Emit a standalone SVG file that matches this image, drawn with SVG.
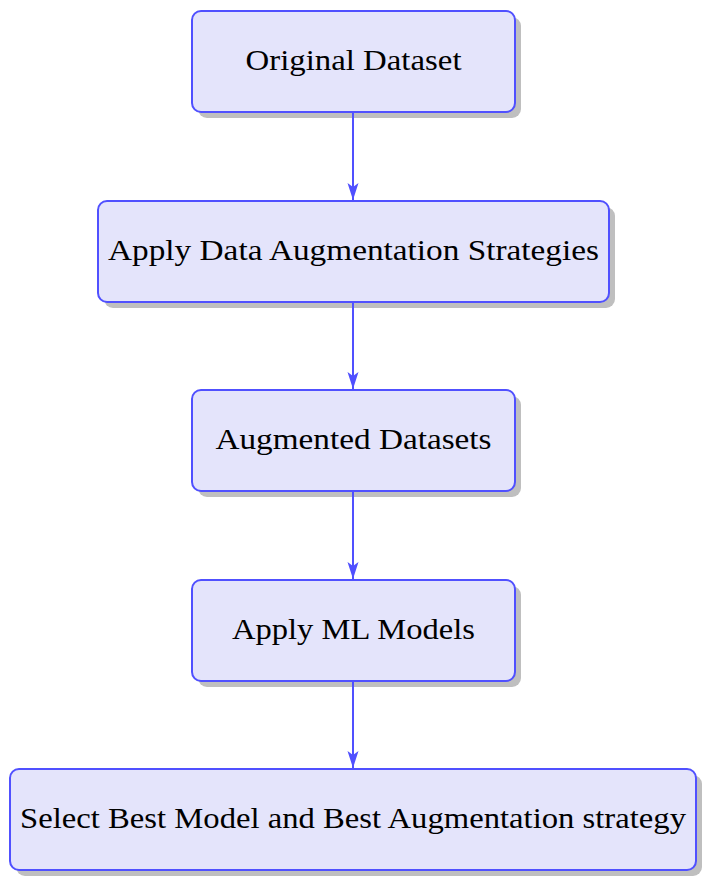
<svg xmlns="http://www.w3.org/2000/svg" width="712" height="885" viewBox="0 0 712 885">
<defs>
<style>
.sh{fill:#bfbfbf;stroke:none}
.bx{fill:#e4e4fb;stroke:#5050ff;stroke-width:2}
.t{font-family:"Liberation Serif","DejaVu Serif",serif;font-size:30px;fill:#000;text-anchor:middle}
.c{stroke:#5050ff;stroke-width:2;fill:none}
</style>
<marker id="ah" viewBox="0 0 18 12" refX="17" refY="6" markerWidth="18" markerHeight="12" markerUnits="userSpaceOnUse" orient="auto">
<path d="M0,0.5 L17,6 L0,11.5 L4,6 Z" fill="#5050ff"/>
</marker>
</defs>
<rect width="712" height="885" fill="#fff"/>
<g id="n1">
<rect class="sh" x="198" y="17" width="323" height="101" rx="9"/>
<rect class="bx" x="192" y="11" width="323" height="101" rx="9"/>
<text class="t" x="353.5" y="69.5" textLength="216" lengthAdjust="spacingAndGlyphs">Original Dataset</text>
</g>
<g id="n2">
<rect class="sh" x="104" y="207" width="511" height="101" rx="9"/>
<rect class="bx" x="98" y="201" width="511" height="101" rx="9"/>
<text class="t" x="353.5" y="259.5" textLength="491" lengthAdjust="spacingAndGlyphs">Apply Data Augmentation Strategies</text>
</g>
<g id="n3">
<rect class="sh" x="198" y="396" width="323" height="101" rx="9"/>
<rect class="bx" x="192" y="390" width="323" height="101" rx="9"/>
<text class="t" x="353.5" y="448.5" textLength="276" lengthAdjust="spacingAndGlyphs">Augmented Datasets</text>
</g>
<g id="n4">
<rect class="sh" x="198" y="586" width="323" height="101" rx="9"/>
<rect class="bx" x="192" y="580" width="323" height="101" rx="9"/>
<text class="t" x="353.5" y="638.5" textLength="243" lengthAdjust="spacingAndGlyphs">Apply ML Models</text>
</g>
<g id="n5">
<rect class="sh" x="16" y="775" width="686" height="101" rx="9"/>
<rect class="bx" x="10" y="769" width="686" height="101" rx="9"/>
<text class="t" x="353" y="827.5" textLength="666" lengthAdjust="spacingAndGlyphs">Select Best Model and Best Augmentation strategy</text>
</g>
<g id="connectors">
<line class="c" x1="353" y1="113" x2="353" y2="200" marker-end="url(#ah)"/>
<line class="c" x1="353" y1="303" x2="353" y2="389" marker-end="url(#ah)"/>
<line class="c" x1="353" y1="492" x2="353" y2="579" marker-end="url(#ah)"/>
<line class="c" x1="353" y1="682" x2="353" y2="768" marker-end="url(#ah)"/>
</g>
</svg>
